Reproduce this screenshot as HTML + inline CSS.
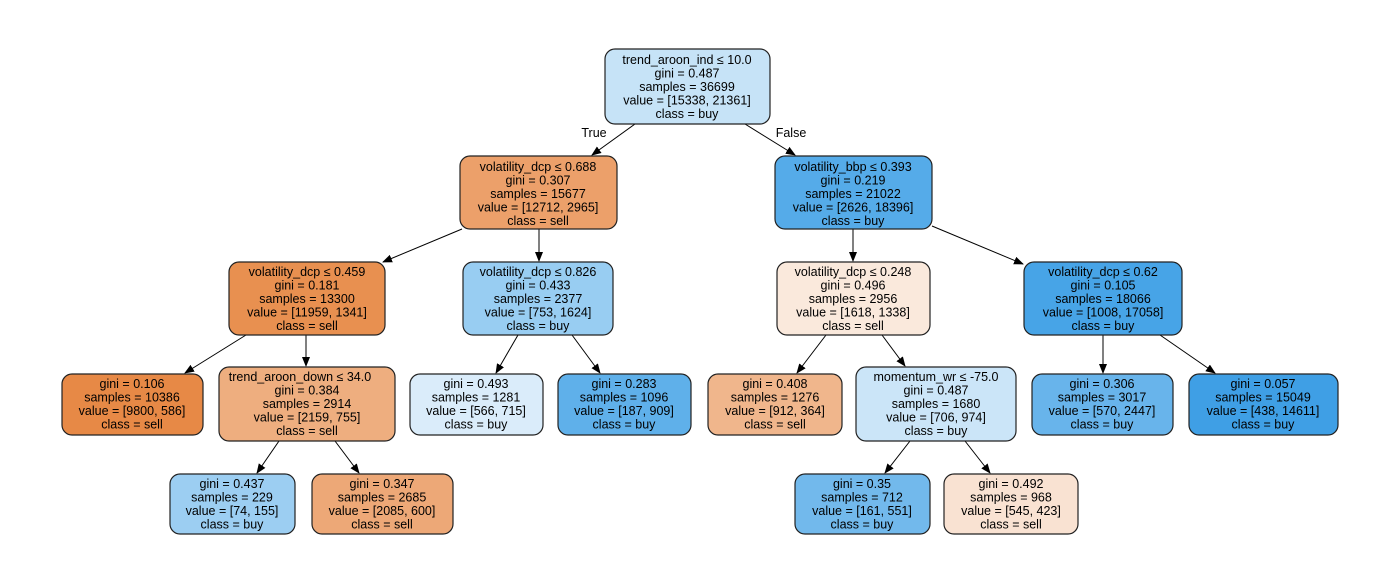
<!DOCTYPE html>
<html><head><meta charset="utf-8"><style>
html,body{margin:0;padding:0;background:#fff;}
svg{display:block;}
text{font-family:"Liberation Sans",Arial,sans-serif;font-size:12.5px;fill:#000;}
</style></head><body>
<svg width="1400" height="587" viewBox="0 0 1400 587" xmlns="http://www.w3.org/2000/svg">
<defs><marker id="a" markerWidth="10" markerHeight="8" refX="9" refY="4" orient="auto" markerUnits="userSpaceOnUse"><path d="M0,0 L10,4 L0,8 z" fill="#000"/></marker></defs>
<g stroke="#000" stroke-width="1" marker-end="url(#a)">
<line x1="635" y1="124" x2="592" y2="155"/>
<line x1="745" y1="124" x2="795" y2="155"/>
<line x1="462" y1="229" x2="383" y2="262"/>
<line x1="539" y1="229" x2="539" y2="261"/>
<line x1="853" y1="229" x2="853" y2="261"/>
<line x1="932" y1="226" x2="1023" y2="264"/>
<line x1="246" y1="335" x2="185" y2="373"/>
<line x1="306" y1="335" x2="306" y2="366"/>
<line x1="518" y1="335" x2="496" y2="373"/>
<line x1="572" y1="335" x2="600" y2="373"/>
<line x1="826" y1="335" x2="797" y2="373"/>
<line x1="882" y1="335" x2="905" y2="366"/>
<line x1="1103" y1="335" x2="1103" y2="373"/>
<line x1="1160" y1="335" x2="1215" y2="373"/>
<line x1="279" y1="441" x2="257" y2="473"/>
<line x1="335" y1="441" x2="359" y2="473"/>
<line x1="910" y1="441" x2="885" y2="473"/>
<line x1="965" y1="441" x2="990" y2="473"/>
</g>
<text x="594" y="137" text-anchor="middle">True</text>
<text x="791" y="137" text-anchor="middle">False</text>
<g stroke="#222" stroke-width="1.2">
<rect x="605" y="49" width="165" height="75" rx="10" fill="#c6e3f7"/>
<rect x="460" y="156" width="157" height="73" rx="10" fill="#eca06a"/>
<rect x="775" y="156" width="157" height="73" rx="10" fill="#55abe9"/>
<rect x="229" y="262" width="156" height="73" rx="10" fill="#e89050"/>
<rect x="463" y="262" width="150" height="73" rx="10" fill="#98cdf2"/>
<rect x="777" y="262" width="153" height="73" rx="10" fill="#fae9dc"/>
<rect x="1024" y="262" width="158" height="73" rx="10" fill="#47a4e7"/>
<rect x="62" y="374" width="141" height="61" rx="10" fill="#e78946"/>
<rect x="219" y="367" width="176" height="74" rx="10" fill="#eeae7f"/>
<rect x="410" y="374" width="133" height="61" rx="10" fill="#daecfa"/>
<rect x="558" y="374" width="133" height="61" rx="10" fill="#5fb0ea"/>
<rect x="708" y="374" width="134" height="61" rx="10" fill="#f0b68c"/>
<rect x="856" y="367" width="160" height="74" rx="10" fill="#cbe5f8"/>
<rect x="1032" y="374" width="141" height="61" rx="10" fill="#68b4eb"/>
<rect x="1189" y="374" width="149" height="61" rx="10" fill="#3f9fe5"/>
<rect x="170" y="474" width="125" height="60" rx="10" fill="#9ccef2"/>
<rect x="312" y="474" width="141" height="60" rx="10" fill="#eda877"/>
<rect x="795" y="474" width="135" height="60" rx="10" fill="#72b9ec"/>
<rect x="944" y="474" width="134" height="60" rx="10" fill="#f9e2d2"/>
</g>
<g text-anchor="middle">
<text x="687" y="64">trend_aroon_ind ≤ 10.0</text><text x="687" y="77.5">gini = 0.487</text><text x="687" y="91">samples = 36699</text><text x="687" y="104.5">value = [15338, 21361]</text><text x="687" y="118">class = buy</text>
<text x="538" y="171">volatility_dcp ≤ 0.688</text><text x="538" y="184.5">gini = 0.307</text><text x="538" y="198">samples = 15677</text><text x="538" y="211.5">value = [12712, 2965]</text><text x="538" y="225">class = sell</text>
<text x="853" y="171">volatility_bbp ≤ 0.393</text><text x="853" y="184.5">gini = 0.219</text><text x="853" y="198">samples = 21022</text><text x="853" y="211.5">value = [2626, 18396]</text><text x="853" y="225">class = buy</text>
<text x="307" y="276">volatility_dcp ≤ 0.459</text><text x="307" y="289.5">gini = 0.181</text><text x="307" y="303">samples = 13300</text><text x="307" y="316.5">value = [11959, 1341]</text><text x="307" y="330">class = sell</text>
<text x="538" y="276">volatility_dcp ≤ 0.826</text><text x="538" y="289.5">gini = 0.433</text><text x="538" y="303">samples = 2377</text><text x="538" y="316.5">value = [753, 1624]</text><text x="538" y="330">class = buy</text>
<text x="853" y="276">volatility_dcp ≤ 0.248</text><text x="853" y="289.5">gini = 0.496</text><text x="853" y="303">samples = 2956</text><text x="853" y="316.5">value = [1618, 1338]</text><text x="853" y="330">class = sell</text>
<text x="1103" y="276">volatility_dcp ≤ 0.62</text><text x="1103" y="289.5">gini = 0.105</text><text x="1103" y="303">samples = 18066</text><text x="1103" y="316.5">value = [1008, 17058]</text><text x="1103" y="330">class = buy</text>
<text x="132" y="388">gini = 0.106</text><text x="132" y="401.5">samples = 10386</text><text x="132" y="415">value = [9800, 586]</text><text x="132" y="428.5">class = sell</text>
<text x="300" y="381">trend_aroon_down ≤ 34.0</text><text x="307" y="394.5">gini = 0.384</text><text x="307" y="408">samples = 2914</text><text x="307" y="421.5">value = [2159, 755]</text><text x="307" y="435">class = sell</text>
<text x="476" y="388">gini = 0.493</text><text x="476" y="401.5">samples = 1281</text><text x="476" y="415">value = [566, 715]</text><text x="476" y="428.5">class = buy</text>
<text x="624" y="388">gini = 0.283</text><text x="624" y="401.5">samples = 1096</text><text x="624" y="415">value = [187, 909]</text><text x="624" y="428.5">class = buy</text>
<text x="775" y="388">gini = 0.408</text><text x="775" y="401.5">samples = 1276</text><text x="775" y="415">value = [912, 364]</text><text x="775" y="428.5">class = sell</text>
<text x="936" y="381">momentum_wr ≤ -75.0</text><text x="936" y="394.5">gini = 0.487</text><text x="936" y="408">samples = 1680</text><text x="936" y="421.5">value = [706, 974]</text><text x="936" y="435">class = buy</text>
<text x="1102" y="388">gini = 0.306</text><text x="1102" y="401.5">samples = 3017</text><text x="1102" y="415">value = [570, 2447]</text><text x="1102" y="428.5">class = buy</text>
<text x="1263" y="388">gini = 0.057</text><text x="1263" y="401.5">samples = 15049</text><text x="1263" y="415">value = [438, 14611]</text><text x="1263" y="428.5">class = buy</text>
<text x="232" y="488">gini = 0.437</text><text x="232" y="501.5">samples = 229</text><text x="232" y="515">value = [74, 155]</text><text x="232" y="528.5">class = buy</text>
<text x="382" y="488">gini = 0.347</text><text x="382" y="501.5">samples = 2685</text><text x="382" y="515">value = [2085, 600]</text><text x="382" y="528.5">class = sell</text>
<text x="862" y="488">gini = 0.35</text><text x="862" y="501.5">samples = 712</text><text x="862" y="515">value = [161, 551]</text><text x="862" y="528.5">class = buy</text>
<text x="1011" y="488">gini = 0.492</text><text x="1011" y="501.5">samples = 968</text><text x="1011" y="515">value = [545, 423]</text><text x="1011" y="528.5">class = sell</text>
</g>
</svg>
</body></html>
